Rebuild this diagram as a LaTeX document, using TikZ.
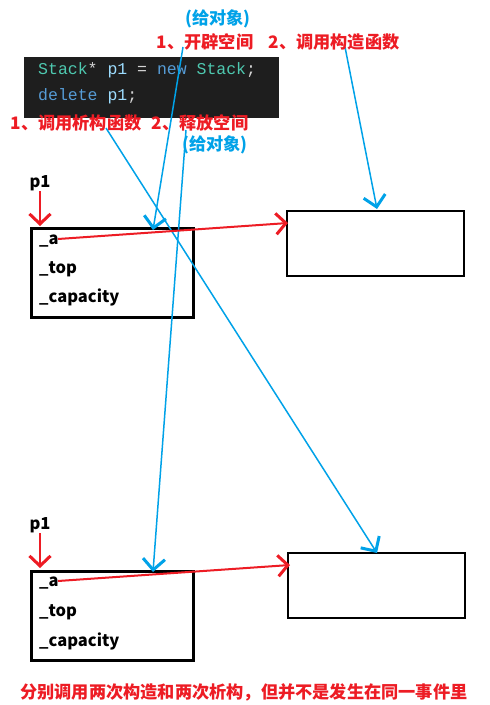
\documentclass[tikz,border=0pt]{standalone}
\usepackage{fontspec}
\setmainfont{Liberation Sans}
\newfontfamily\cjk{Noto Sans CJK SC}
\newfontfamily\codefont{Liberation Mono}
\usetikzlibrary{arrows.meta}
\definecolor{pred}{RGB}{237,28,36}
\definecolor{pblue}{RGB}{0,162,232}
\definecolor{codebg}{RGB}{30,30,30}
\definecolor{cteal}{RGB}{78,201,176}
\definecolor{ckw}{RGB}{86,156,214}
\definecolor{cvar}{RGB}{156,220,254}
\definecolor{cplain}{RGB}{212,212,212}
\tikzset{
  redlbl/.style={text=pred, font=\cjk\bfseries\fontsize{17.2}{17.2}\selectfont, inner sep=0pt},
  bluelbl/.style={text=pblue, font=\cjk\bfseries\fontsize{17.2}{17.2}\selectfont, inner sep=0pt},
  field/.style={anchor=west, font=\cjk\bfseries\fontsize{16.5}{16.5}\selectfont, inner sep=0pt},
  codeln/.style={anchor=west, font=\codefont\fontsize{16.5}{16.5}\selectfont, inner sep=0pt},
  objbox/.style={draw=black, line width=3pt, minimum width=162pt, minimum height=89pt, inner sep=0pt},
  heapbox/.style={draw=black, line width=2pt, minimum width=177pt, minimum height=65pt, inner sep=0pt},
  bluearr/.style={draw=pblue, line width=1.5pt, -{Straight Barb[length=11pt,width=22pt,line width=3pt]}},
  redarr/.style={draw=pred, line width=2pt, -{Straight Barb[length=10pt,width=21pt,line width=3pt]}},
}
\begin{document}
\begin{tikzpicture}[x=1pt,y=-1pt]
\useasboundingbox (0,0) rectangle (490,705);
\fill[white] (0,0) rectangle (490,705);

% code box
\fill[codebg] (24,57) rectangle (279,118);
\node[codeln] (code1) at (38,70) {\textcolor{cteal}{Stack}\textcolor{cplain}{*} \textcolor{cvar}{p1} \textcolor{cplain}{=} \textcolor{ckw}{new} \textcolor{cteal}{Stack}\textcolor{cplain}{;}};
\node[codeln] (code2) at (38,96) {\textcolor{ckw}{delete} \textcolor{cvar}{p1}\textcolor{cplain}{;}};

% boxes
\node[objbox] (b1) at (112,272.5) {};
\node[heapbox] (b2) at (375.5,243.5) {};
\node[objbox] (b3) at (112,616) {};
\node[heapbox] (b4) at (376.5,585.5) {};

% fields
\node[field] (a1) at (39,241) {\_a};
\node[field] (top1) at (39,269) {\_top};
\node[field] (cap1) at (39,297) {\_capacity};
\node[field] (a2) at (39,583) {\_a};
\node[field] (top2) at (39,612) {\_top};
\node[field] (cap2) at (39,641) {\_capacity};
\node[field, anchor=center] (p1a) at (40,183) {p1};
\node[field, anchor=center] (p1b) at (40,525) {p1};

% coordinates for connectors
\coordinate (s1) at (183,47);
\coordinate (e1) at (153,230);
\coordinate (s2) at (345,47);
\coordinate (e2) at (377,209);
\coordinate (s3) at (106,128);
\coordinate (e3) at (377,553);
\coordinate (s4) at (186,130);
\coordinate (e4) at (153,572);
\coordinate (r1s) at (40,191);
\coordinate (r1e) at (40,226);
\coordinate (r2s) at (58,239);
\coordinate (r2e) at (288,223);
\coordinate (r3s) at (40,533);
\coordinate (r3e) at (40,568);
\coordinate (r4s) at (58,581);
\coordinate (r4e) at (290,565);

% blue connectors
\draw[bluearr] (s1) -- (e1);
\draw[bluearr] (s2) -- (e2);
\draw[bluearr] (s3) -- (e3);
\draw[bluearr] (s4) -- (e4);

% red arrows
\draw[redarr] (r1s) -- (r1e);
\draw[redarr] (r2s) -- (r2e);
\draw[redarr] (r3s) -- (r3e);
\draw[redarr] (r4s) -- (r4e);

% labels
\node[bluelbl] (obj1) at (218,19) {(给对象)};
\node[redlbl] (t1) at (205,42) {1、开辟空间};
\node[redlbl] (t2) at (334,42) {2、调用构造函数};
\node[redlbl] (t3) at (76,123) {1、调用析构函数};
\node[redlbl] (t4) at (200,123) {2、释放空间};
\node[bluelbl] (obj2) at (215,145) {(给对象)};
\node[redlbl] (bottom) at (244,692) {分别调用两次构造和两次析构，但并不是发生在同一事件里};
\end{tikzpicture}
\end{document}
